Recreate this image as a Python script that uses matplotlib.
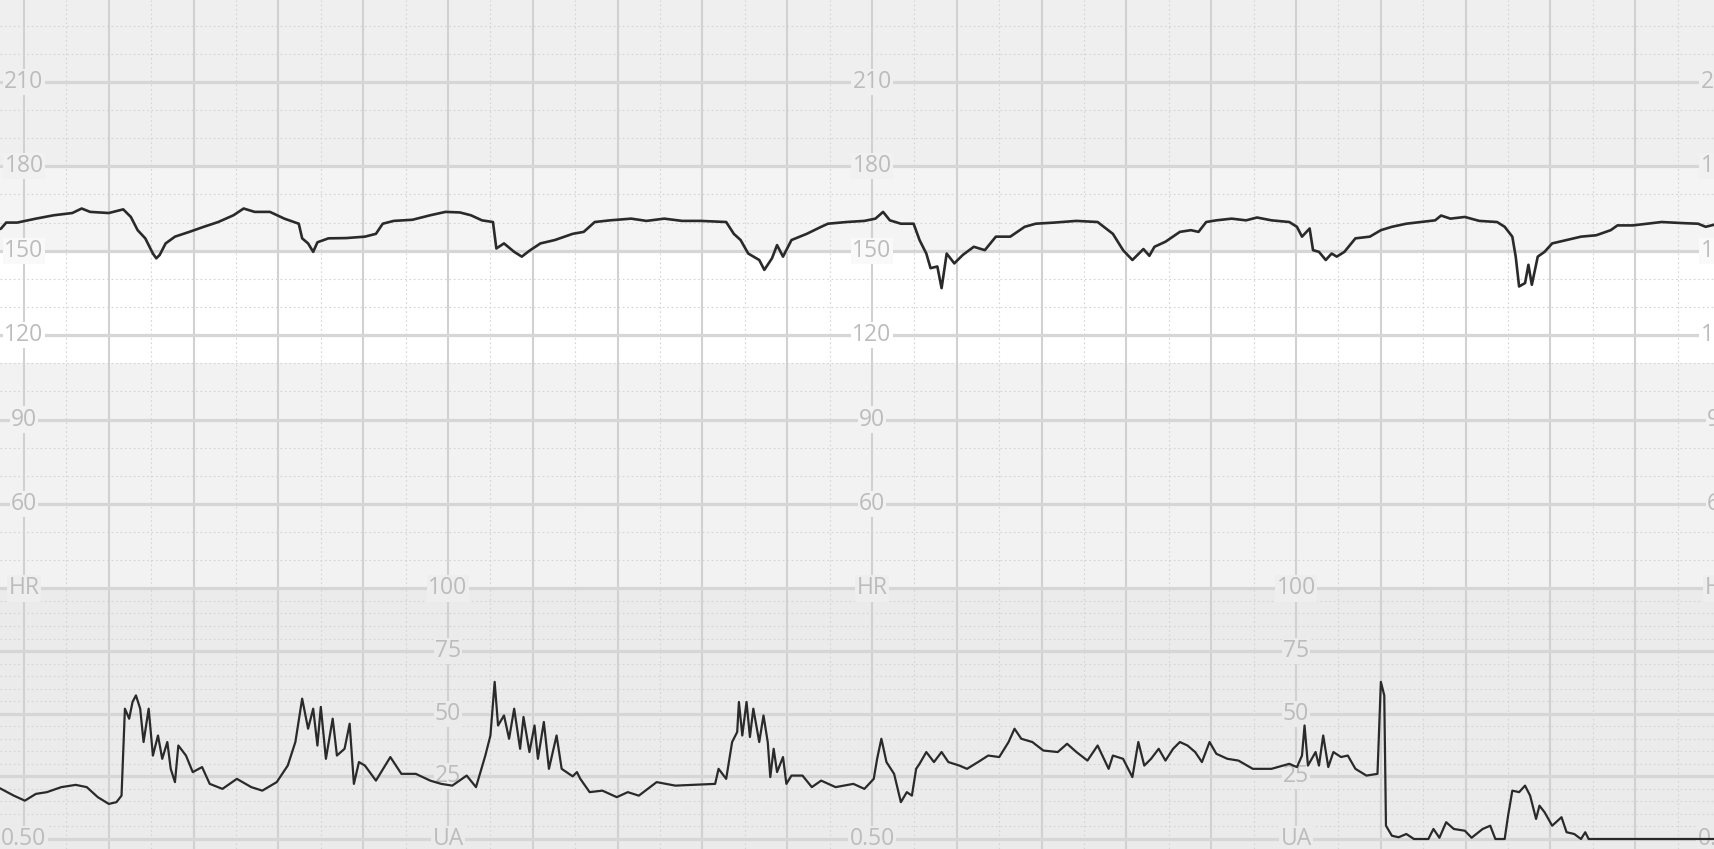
import matplotlib
matplotlib.use("Agg")
import matplotlib.pyplot as plt

# ---------------- data (time in minutes, one major grid column = 1 min) -------------
fhr_t = [-0.30, -0.27, -0.21, -0.08, 0.14, 0.35, 0.57, 0.68, 0.78, 1.00, 1.17, 1.26, 1.34, 1.43,
         1.52, 1.56, 1.60, 1.67, 1.78, 1.95, 2.12, 2.29, 2.47, 2.59, 2.72, 2.90, 3.07, 3.24,
         3.28, 3.35, 3.41, 3.46, 3.59, 3.80, 4.02, 4.15, 4.23, 4.36, 4.58, 4.79, 4.97, 5.14,
         5.27, 5.40, 5.53, 5.57, 5.66, 5.78, 5.87, 5.96, 6.09, 6.26, 6.47,
         6.60, 6.73, 6.91, 7.16, 7.34, 7.55, 7.76, 7.98, 8.28, 8.37, 8.45, 8.54, 8.67, 8.73,
         8.82, 8.88, 8.95, 9.05, 9.23, 9.40, 9.48, 9.70, 9.91, 10.04, 10.13, 10.21, 10.34,
         10.49, 10.56, 10.64, 10.69, 10.77, 10.82, 10.88, 10.97, 11.07, 11.20, 11.33, 11.46,
         11.63, 11.80, 11.93, 12.15, 12.41, 12.66, 12.84, 12.96, 13.07, 13.20,
         13.27, 13.33, 13.46, 13.63, 13.76, 13.85, 13.94, 14.06, 14.24, 14.41, 14.54, 14.71,
         14.92, 15.01, 15.07, 15.16, 15.20, 15.27, 15.35, 15.42, 15.48, 15.57, 15.70, 15.87,
         16.00, 16.13, 16.30, 16.47, 16.64, 16.71, 16.82, 16.99, 17.16, 17.37, 17.46, 17.55,
         17.59, 17.63, 17.70, 17.74, 17.78, 17.85, 17.93, 18.02, 18.19, 18.36, 18.54, 18.71,
         18.79, 18.97, 19.14, 19.31, 19.57, 19.74, 19.83, 19.95]
fhr_bpm = [157.5, 157.9, 160.0, 160.0, 161.4, 162.6, 163.4, 165.0, 163.8, 163.4, 164.7, 162.0, 157.3, 154.4,
           149.0, 147.3, 148.5, 152.6, 155.0, 156.7, 158.5, 160.2, 162.6, 165.0, 163.8, 163.8, 161.4, 159.6,
           154.4, 152.6, 149.6, 153.0, 154.4, 154.5, 155.0, 156.0, 159.6, 160.6, 161.0, 162.6, 163.8, 163.6,
           162.6, 160.8, 160.2, 150.8, 152.6, 149.6, 147.9, 150.0, 152.6, 153.8, 156.0,
           156.7, 160.2, 160.8, 161.4, 160.6, 161.4, 160.6, 160.6, 160.2, 156.0, 153.8, 149.0, 146.7, 143.2,
           147.3, 152.0, 147.9, 153.8, 156.0, 158.5, 159.6, 160.2, 160.6, 161.4, 163.8, 160.8, 159.6,
           159.6, 153.8, 149.0, 143.8, 144.4, 136.7, 149.0, 145.5, 148.5, 151.4, 150.2, 155.0,
           155.0, 158.5, 159.6, 160.0, 160.6, 160.2, 156.0, 150.2, 146.7, 150.6,
           148.2, 151.4, 153.2, 156.7, 157.3, 156.7, 160.2, 160.8, 161.4, 160.8, 161.8, 160.8,
           160.2, 158.5, 155.0, 157.9, 150.2, 149.6, 146.7, 149.0, 147.9, 149.6, 154.4, 155.0,
           157.3, 158.5, 159.6, 160.2, 160.8, 162.5, 161.4, 162.0, 160.6, 160.2, 158.5, 155.0,
           147.9, 137.3, 138.5, 145.0, 137.9, 147.9, 149.6, 152.6, 153.8, 155.0, 155.5, 157.3,
           159.0, 159.0, 159.6, 160.2, 159.8, 159.6, 158.5, 159.4]

ua_t = [-0.30, -0.27, -0.12, 0.01, 0.14, 0.27, 0.44, 0.61, 0.74, 0.87, 1.00, 1.09, 1.15, 1.19, 1.24,
        1.28, 1.32, 1.37, 1.41, 1.47, 1.52, 1.58, 1.63, 1.69, 1.73, 1.78, 1.82, 1.91, 1.99, 2.10,
        2.19, 2.34, 2.51, 2.68, 2.81, 2.98, 3.11, 3.20, 3.28, 3.35, 3.41, 3.46, 3.50, 3.56, 3.64,
        3.69, 3.78, 3.84, 3.89, 3.95, 4.02, 4.15, 4.32, 4.45, 4.62, 4.79, 4.92, 5.05, 5.22, 5.33,
        5.44, 5.50, 5.55, 5.59, 5.66, 5.72, 5.78, 5.85, 5.89, 5.96, 6.02, 6.06, 6.13, 6.19, 6.28,
        6.34, 6.47, 6.52, 6.56, 6.67, 6.82, 6.99, 7.12, 7.25, 7.46, 7.68, 7.89, 8.15, 8.19, 8.28,
        8.35, 8.41, 8.43, 8.47, 8.52, 8.56, 8.60, 8.67, 8.72, 8.77, 8.80, 8.84, 8.88, 8.95, 8.99,
        9.05, 9.18, 9.29, 9.40, 9.57, 9.78, 9.91, 10.02, 10.06, 10.11, 10.17, 10.26, 10.34, 10.41,
        10.47, 10.52, 10.56, 10.64, 10.73, 10.82, 10.90, 11.03, 11.12, 11.25, 11.37, 11.50, 11.61,
        11.68, 11.76, 11.89, 12.02, 12.19, 12.30, 12.41, 12.54, 12.66, 12.79, 12.84, 12.96, 13.07,
        13.14, 13.21, 13.29, 13.38, 13.46, 13.55, 13.63, 13.72, 13.81, 13.89, 13.98, 14.06, 14.19,
        14.32, 14.49, 14.71, 14.92, 15.01, 15.07, 15.10, 15.14, 15.23, 15.27, 15.32, 15.38, 15.44,
        15.53, 15.61, 15.70, 15.83, 15.96, 16.00, 16.04, 16.06, 16.13, 16.21, 16.30, 16.39, 16.56,
        16.62, 16.69, 16.77, 16.86, 16.99, 17.07, 17.20, 17.29, 17.35, 17.46, 17.50, 17.55, 17.63,
        17.70, 17.76, 17.83, 17.87, 17.93, 18.02, 18.13, 18.19, 18.28, 18.36, 18.41, 18.45, 19.95]
ua_val = [20.5, 20.0, 17.3, 15.3, 18.0, 18.7, 20.7, 21.6, 20.7, 16.7, 14.0, 14.7, 17.3, 52.0, 48.0,
          54.7, 57.3, 52.0, 38.7, 52.0, 33.3, 41.3, 32.0, 38.7, 28.0, 22.7, 37.3, 33.3, 26.7, 28.7,
          22.0, 20.0, 24.0, 20.7, 19.3, 22.7, 29.3, 38.7, 56.0, 44.0, 52.0, 37.3, 52.7, 32.0, 48.0,
          33.3, 36.0, 46.0, 22.0, 30.7, 29.3, 23.3, 32.7, 26.0, 26.0, 23.3, 22.0, 21.3, 25.3, 20.7,
          33.3, 41.3, 62.7, 45.3, 49.3, 40.0, 52.0, 36.0, 48.7, 34.7, 45.3, 32.0, 46.7, 28.0, 41.3,
          28.0, 25.0, 26.7, 24.0, 18.7, 19.3, 16.7, 18.7, 17.3, 22.7, 21.3, 21.6, 22.0, 28.0, 24.0,
          38.7, 42.7, 54.7, 41.3, 54.7, 40.7, 52.0, 38.7, 49.3, 38.7, 24.7, 36.0, 26.7, 32.7, 22.0,
          25.3, 25.3, 20.7, 23.3, 20.7, 22.0, 20.0, 24.0, 32.0, 40.0, 30.7, 26.0, 14.7, 18.7,
          17.3, 28.0, 30.0, 34.7, 30.7, 34.7, 30.7, 29.3, 28.0, 30.7, 33.3, 32.7, 38.7,
          44.0, 40.0, 38.7, 35.3, 34.7, 38.0, 34.7, 31.3, 37.3, 28.0, 33.3, 32.0, 24.7,
          38.7, 29.3, 32.0, 36.0, 31.3, 36.0, 38.7, 37.3, 34.7, 30.7, 38.7, 34.0, 32.0,
          31.3, 28.0, 28.0, 30.0, 28.7, 33.3, 45.3, 29.3, 34.7, 29.3, 41.3, 28.7, 34.7,
          32.7, 33.3, 28.0, 25.3, 26.0, 62.7, 57.3, 5.3, 1.3, 0.7, 2.0, 0.0, 0.0,
          4.0, 0.5, 6.7, 4.0, 3.3, 0.5, 4.0, 5.3, 0.0, 0.0, 9.3, 19.3, 18.7,
          21.3, 17.3, 8.0, 13.3, 10.7, 5.3, 8.7, 2.7, 2.0, 0.0, 2.7, 0.0, 0.0]

hr_ticks = [210, 180, 150, 120, 90, 60]
hr_bottom_label = "HR"
ua_ticks = [100, 75, 50, 25]
ua_bottom_label = "UA"
time_label = "0.50"
hr_label_times = [0, 10, 20]
ua_label_times = [5, 15]

# ---------------- layout ----------------
W, H = 1715, 849
split_px = 588.4
fig = plt.figure(figsize=(W / 100, H / 100), dpi=100)
ax_hr = fig.add_axes([0, 1 - split_px / H, 1, split_px / H])
ax_ua = fig.add_axes([0, 0, 1, 1 - split_px / H])

x0, x1 = -0.283, 19.94
hr_lo, hr_hi = 30, 239.1
ua_lo, ua_hi = -3.99, 100

for ax in (ax_hr, ax_ua):
    ax.set_xlim(x0, x1)
    ax.axis("off")
ax_hr.set_ylim(hr_lo, hr_hi)
ax_ua.set_ylim(ua_lo, ua_hi)

# background bands
bg_top, bg_mid, bg_white, bg_low, bg_ua = "#efefef", "#f4f4f4", "#ffffff", "#f2f2f2", "#ebebeb"
ax_hr.axhspan(180, hr_hi, color=bg_top, lw=0, zorder=0)
ax_hr.axhspan(150, 180, color=bg_mid, lw=0, zorder=0)
ax_hr.axhspan(110, 150, color=bg_white, lw=0, zorder=0)
ax_hr.axhspan(hr_lo, 110, color=bg_low, lw=0, zorder=0)
ax_ua.axhspan(ua_lo, ua_hi, color=bg_ua, lw=0, zorder=0)

grid_major = "#d1d1d1"
grid_minor = "#d4d4d4"
dotted = (0, (1.5, 2.5))

# minor grid
for k in range(-1, 20):
    for ax in (ax_hr, ax_ua):
        ax.axvline(k + 0.5, color=grid_minor, lw=0.8, ls=dotted, zorder=1)
for v in range(40, 240, 10):
    if v % 30:
        ax_hr.axhline(v, color=grid_minor, lw=0.8, ls=dotted, zorder=1)
for v in range(5, 100, 5):
    if v % 25:
        ax_ua.axhline(v, color=grid_minor, lw=0.8, ls=dotted, zorder=1)

# major grid
for k in range(0, 20):
    for ax in (ax_hr, ax_ua):
        ax.axvline(k, color=grid_major, lw=1.5, zorder=2)
for v in hr_ticks:
    ax_hr.axhline(v, color="#d6d6d6", lw=2.3, zorder=2)
for v in [0, 25, 50, 75]:
    ax_ua.axhline(v, color="#d6d6d6", lw=2.3, zorder=2)
ax_ua.axhline(100, color="#d6d6d6", lw=2.3, zorder=2, clip_on=False)

# labels
txt_color = "#bcbcbc"
fs = 16.5
font = ["Open Sans", "DejaVu Sans"]
hr_bg = {210: bg_top, 180: "#f1f1f1", 150: "#f9f9f9", 120: bg_white, 90: bg_low, 60: bg_low}


def label(ax, x, y, s, bg):
    ax.text(x, y, s, ha="center", va="center", fontsize=fs, color=txt_color,
            family=font, zorder=5,
            bbox=dict(boxstyle="square,pad=0.05", fc=bg, ec="none"))


for t in hr_label_times:
    for v in hr_ticks:
        label(ax_hr, t, v, str(v), hr_bg[v])
    label(ax_ua, t, 100, hr_bottom_label, "#eeeeee")
    label(ax_ua, t, 0, time_label, bg_ua)
for t in ua_label_times:
    for v in ua_ticks:
        label(ax_ua, t, v, str(v), bg_ua if v < 100 else "#eeeeee")
    label(ax_ua, t, 0, ua_bottom_label, bg_ua)

# traces
ax_hr.plot(fhr_t, fhr_bpm, color="#2a2a2a", lw=1.9, zorder=10, solid_joinstyle="round")
ax_ua.plot(ua_t, ua_val, color="#2a2a2a", lw=1.6, zorder=10, solid_joinstyle="round")

fig.savefig("out.png", dpi=100)
